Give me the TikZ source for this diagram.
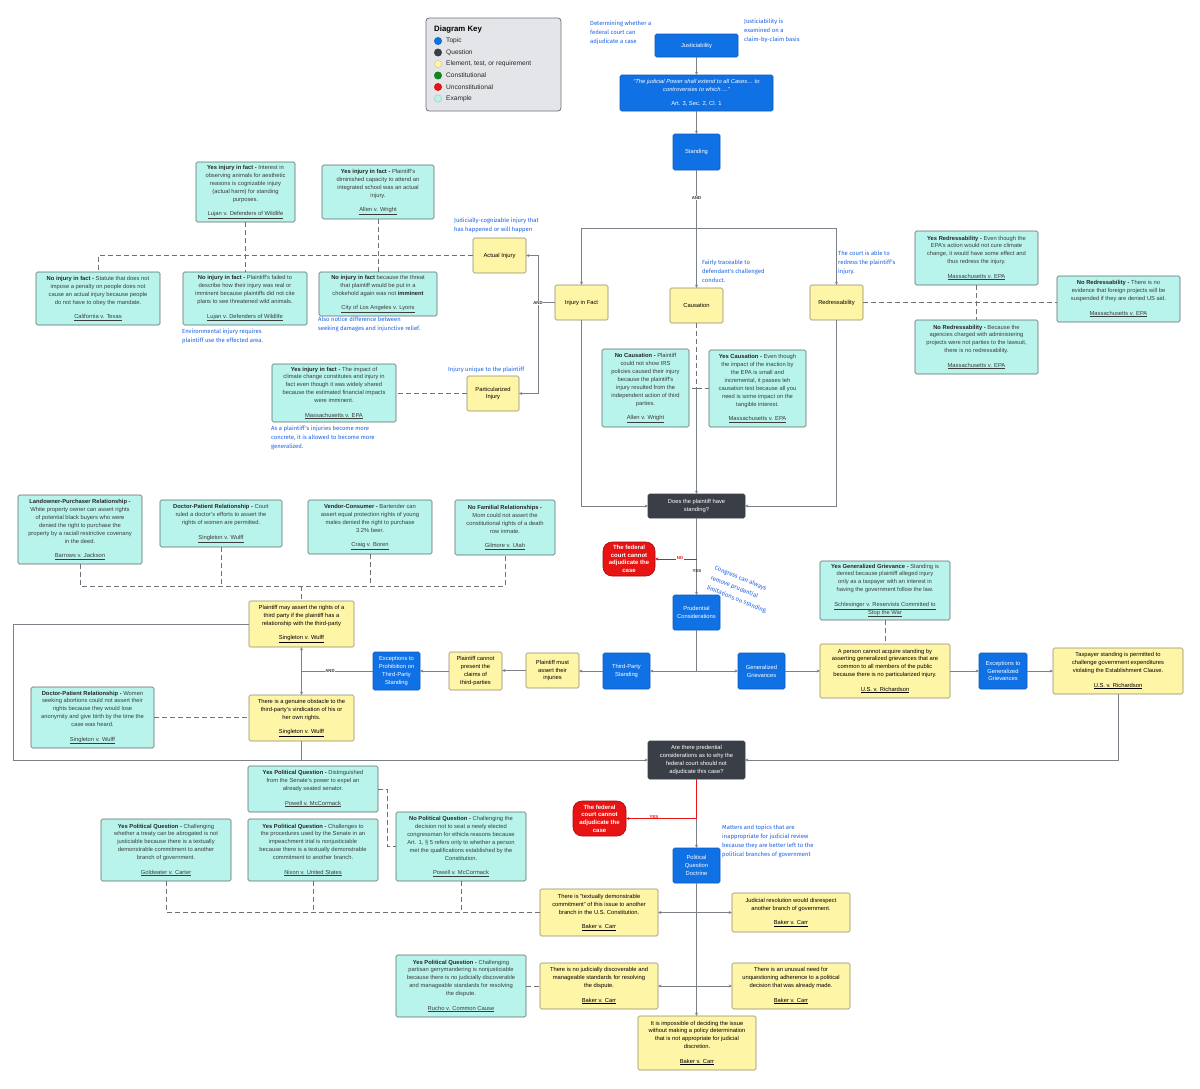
\documentclass[tikz,border=0pt]{standalone}
\usepackage{fontspec}
\setmainfont{Liberation Sans}
\newfontfamily\annfont{Fira Sans}
\usetikzlibrary{arrows.meta}
\definecolor{topicB}{HTML}{1071E5}
\definecolor{topicD}{HTML}{0B5CC0}
\definecolor{questC}{HTML}{3A3F47}
\definecolor{elemY}{HTML}{FFF5A6}
\definecolor{elemD}{HTML}{8F8B6E}
\definecolor{exT}{HTML}{B8F4EB}
\definecolor{exD}{HTML}{5D6B6A}
\definecolor{exTxt}{HTML}{3C3C3C}
\definecolor{redC}{HTML}{E81313}
\definecolor{greenC}{HTML}{0C8A1E}
\definecolor{annC}{HTML}{1B62E4}
\definecolor{lineC}{HTML}{7C8088}
\definecolor{dashC}{HTML}{6E7278}
\definecolor{keyBg}{HTML}{E3E5E8}
\newcommand\fs{\fontsize{5.8}{7.9}\selectfont}
\newcommand\cs[1]{\underline{#1}}
\newcommand\bp[1]{\textbf{\color{black!85}#1}}
\newcommand\bx[7]{\node[#1,minimum width={#4-#2},minimum height={#5-#3}] (#6) at ({(#2+#4)/2},{(#3+#5)/2}) {#7};}
\tikzset{
  boxbase/.style={draw, rounded corners=1.5pt, align=center, inner xsep=2pt, inner ysep=2pt, outer sep=0pt, font=\fs, line width=0.6pt},
  topic/.style={boxbase, fill=topicB, draw=topicD, text=white},
  elem/.style={boxbase, fill=elemY, draw=elemD, text=black},
  exbox/.style={boxbase, fill=exT, draw=exD, text=exTxt},
  quest/.style={boxbase, fill=questC, draw=questC, text=white},
  unc/.style={boxbase, fill=redC, draw=redC!70!black, text=white, rounded corners=9pt, font=\bfseries\fontsize{6}{7.6}\selectfont},
  conn/.style={draw=lineC, line width=0.6pt},
  arr/.style={conn, -{Stealth[length=3.4pt,width=3pt]}},
  redarr/.style={draw=redC, line width=0.6pt, -{Stealth[length=3.4pt,width=3pt]}},
  dsh/.style={draw=dashC, line width=0.8pt, dash pattern=on 5pt off 3pt},
  annot/.style={text=annC, align=left, inner sep=0pt, anchor=north west, font=\annfont\fontsize{5.9}{9}\selectfont},
  andlbl/.style={fill=white, inner sep=0.8pt, font=\bfseries\fontsize{4.3}{5}\selectfont, text=black!80},
  keyitem/.style={anchor=west, inner sep=0pt, font=\fontsize{6.6}{8}\selectfont, text=black!85},
  keydot/.style={circle, minimum size=7.4pt, inner sep=0pt, draw=#1!80!black, fill=#1}
}
\begin{document}
\begin{tikzpicture}[x=1pt,y=-1pt]
\useasboundingbox[fill=white] (0,0) rectangle (1200,1088);

% ---------- Key ----------
\node[draw=dashC, fill=keyBg, rounded corners=3pt, line width=0.8pt, minimum width=135pt, minimum height=93pt, inner sep=0pt] (key) at (493.5,64.5) {};
\node[anchor=west, inner sep=0pt, font=\bfseries\fontsize{7.8}{9}\selectfont] (keytitle) at (434,29) {Diagram Key};
\node[keydot=topicB] (kd1) at (438,41) {};
\node[keydot=questC] (kd2) at (438,52.5) {};
\node[keydot=elemY] (kd3) at (438,64) {};
\node[keydot=greenC] (kd4) at (438,75.5) {};
\node[keydot=redC] (kd5) at (438,87) {};
\node[keydot=exT] (kd6) at (438,98.5) {};
\node[keyitem] (kt1) at (446,41) {Topic};
\node[keyitem] (kt2) at (446,52.5) {Question};
\node[keyitem] (kt3) at (446,64) {Element, test, or requirement};
\node[keyitem] (kt4) at (446,75.5) {Constitutional};
\node[keyitem] (kt5) at (446,87) {Unconstitutional};
\node[keyitem] (kt6) at (446,98.5) {Example};

% ---------- Top ----------
\bx{topic}{655}{34}{738}{57}{just}{Justiciability}
\bx{topic}{620}{75}{773}{111}{quote}{\itshape “The judicial Power shall extend to all Cases… to\\\itshape controversies to which….”\\[6pt]Art. 3, Sec. 2, Cl. 1}
\bx{topic}{673}{134}{720}{170}{stand}{Standing}
\bx{elem}{555}{285}{608}{320}{inj}{Injury in Fact}
\bx{elem}{670}{288}{723}{323}{caus}{Causation}
\bx{elem}{810}{285}{863}{320}{redr}{Redressability}
\bx{elem}{473}{238}{526}{273}{actual}{Actual Injury}
\bx{elem}{467}{376}{519}{411}{partic}{Particularized\\Injury}

% ---------- Injury examples ----------
\bx{exbox}{196}{162}{295}{222}{yeslujan}{\bp{Yes injury in fact -} Interest in\\observing animals for aesthetic\\reasons is cognizable injury\\(actual harm) for standing\\purposes.\\[6.5pt]\cs{Lujan v. Defenders of Wildlife}}
\bx{exbox}{322}{165}{434}{219}{allen}{\bp{Yes injury in fact -} Plaintiff's\\diminished capacity to attend an\\integrated school was an actual\\injury.\\[6.5pt]\cs{Allen v. Wright}}
\bx{exbox}{36}{272}{160}{325}{cal}{\bp{No injury in fact -} Statute that does not\\impose a penalty on people does not\\cause an actual injury because people\\do not have to obey the mandate.\\[6.5pt]\cs{California v. Texas}}
\bx{exbox}{183}{272}{307}{325}{nolujan}{\bp{No injury in fact -} Plaintiff's failed to\\describe how their injury was real or\\imminent because plaintiffs did not cite\\plans to see threatened wild animals.\\[6.5pt]\cs{Lujan v. Defenders of Wildlife}}
\bx{exbox}{319}{272}{437}{316}{lyons}{\bp{No injury in fact} because the threat\\that plaintiff would be put in a\\chokehold again was not \bp{imminent}\\[6.5pt]\cs{City of Los Angeles v. Lyons}}
\bx{exbox}{272}{364}{396}{422}{massyes}{\bp{Yes injury in fact -} The impact of\\climate change constitutes and injury in\\fact even though it was widely shared\\because the estimated financial impacts\\were imminent.\\[6.5pt]\cs{Massachusetts v. EPA}}

% ---------- Causation / Redressability examples ----------
\bx{exbox}{602}{349}{689}{427}{nocaus}{\bp{No Causation -} Plaintiff\\could not show IRS\\policies caused their injury\\because the plaintiff's\\injury resulted from the\\independent action of third\\parties.\\[6.5pt]\cs{Allen v. Wright}}
\bx{exbox}{709}{350}{806}{427}{yescaus}{\bp{Yes Causation -} Even though\\the impact of the inaction by\\the EPA is small and\\incremental, it passes teh\\causation test because all you\\need is some impact on the\\tangible interest.\\[6.5pt]\cs{Massachusetts v. EPA}}
\bx{exbox}{915}{231}{1038}{285}{yesred}{\bp{Yes Redressability -} Even though the\\EPA's action would not cure climate\\change, it would have some effect and\\thus redress the injury.\\[6.5pt]\cs{Massachusetts v. EPA}}
\bx{exbox}{1057}{276}{1180}{322}{noredf}{\bp{No Redressability -} There is no\\evidence that foreign projects will be\\suspended if they are denied US aid.\\[6.5pt]\cs{Massachusetts v. EPA}}
\bx{exbox}{915}{320}{1038}{374}{noreda}{\bp{No Redressability -} Because the\\agencies charged with administering\\projects were not parties to the lawsuit,\\there is no redressability.\\[6.5pt]\cs{Massachusetts v. EPA}}

% ---------- Standing question ----------
\bx{quest}{648}{494}{745}{518}{q1}{Does the plaintiff have\\standing?}
\bx{unc}{603}{542}{655}{576}{red1}{The federal\\court cannot\\adjudicate the\\case}
\bx{topic}{673}{595}{720}{630}{prud}{Prudential\\Considerations}

% ---------- Third party ----------
\bx{topic}{603}{653}{650}{689}{tps}{Third-Party\\Standing}
\bx{elem}{526}{653}{579}{688}{pmust}{Plaintiff must\\assert their\\injuries}
\bx{elem}{449}{652}{502}{690}{pcannot}{Plaintiff cannot\\present the\\claims of\\third-parties}
\bx{topic}{373}{652}{420}{690}{extp}{Exceptions to\\Prohibition on\\Third-Party\\Standing}
\bx{elem}{249}{601}{354}{647}{pmay}{Plaintiff may assert the rights of a\\third party if the plaintiff has a\\relationship with the third-party\\[6.5pt]\cs{Singleton v. Wulff}}
\bx{elem}{249}{695}{354}{741}{gen}{There is a genuine obstacle to the\\third-party's vindication of his or\\her own rights.\\[6.5pt]\cs{Singleton v. Wulff}}
\bx{exbox}{18}{495}{142}{564}{land}{\bp{Landowner-Purchaser Relationship -}\\White property owner can assert rights\\of potential black buyers who were\\denied the right to purchase the\\property by a raciall restrictive covenany\\in the deed.\\[6.5pt]\cs{Barrows v. Jackson}}
\bx{exbox}{160}{500}{282}{547}{docc}{\bp{Doctor-Patient Relationship -} Court\\ruled a doctor's efforts to assert the\\rights of women are permitted.\\[6.5pt]\cs{Singleton v. Wulff}}
\bx{exbox}{308}{500}{432}{554}{vend}{\bp{Vendor-Consumer -} Bartender can\\assert equal protection rights of young\\males denied the right to purchase\\3.2\% beer.\\[6.5pt]\cs{Craig v. Boren}}
\bx{exbox}{455}{500}{555}{555}{fam}{\bp{No Familial Relationships -}\\Mom could not assert the\\constitutional rights of a death\\row inmate.\\[6.5pt]\cs{Gilmore v. Utah}}
\bx{exbox}{31}{687}{154}{748}{docw}{\bp{Doctor-Patient Relationship -} Women\\seeking abortions could not assert their\\rights because they would lose\\anonymity and give birth by the time the\\case was heard.\\[6.5pt]\cs{Singleton v. Wulff}}

% ---------- Generalized grievances ----------
\bx{topic}{738}{653}{785}{689}{gg}{Generalized\\Grievances}
\bx{elem}{820}{644}{950}{698}{aperson}{A person cannot acquire standing by\\asserting generalized grievances that are\\common to all members of the public\\because there is no particularized injury.\\[6.5pt]\cs{U.S. v. Richardson}}
\bx{exbox}{820}{561}{950}{620}{yesgg}{\bp{Yes Generalized Grievance -} Standing is\\denied because plaintiff alleged injury\\only as a taxpayer with an interest in\\having the government follow the law.\\[6.5pt]\cs{Schlesinger v. Reservists Committed to}\\\cs{Stop the War}}
\bx{topic}{979}{653}{1027}{689}{exgg}{Exceptions to\\Generalized\\Grievances}
\bx{elem}{1053}{648}{1183}{694}{tax}{Taxpayer standing is permitted to\\challenge government expenditures\\violating the Establishment Clause.\\[6.5pt]\cs{U.S. v. Richardson}}

% ---------- Prudential question ----------
\bx{quest}{648}{741}{745}{779}{q2}{Are there predential\\considerations as to why the\\federal court should not\\adjudicate this case?}
\bx{unc}{573}{801}{626}{836}{red2}{The federal\\court cannot\\adjudicate the\\case}
\bx{topic}{673}{848}{720}{883}{pqd}{Political\\Question\\Doctrine}
\bx{elem}{540}{889}{658}{936}{textd}{There is "textually demonstrable\\commitment" of this issue to another\\branch in the U.S. Constitution.\\[6.5pt]\cs{Baker v. Carr}}
\bx{elem}{732}{893}{850}{932}{judres}{Judicial resolution would disrespect\\another branch of government.\\[6.5pt]\cs{Baker v. Carr}}
\bx{elem}{540}{963}{658}{1009}{nojud}{There is no judicially discoverable and\\manageable standards for resolving\\the dispute.\\[6.5pt]\cs{Baker v. Carr}}
\bx{elem}{732}{963}{850}{1009}{unus}{There is an unusual need for\\unquestioning adherence to a political\\decision that was already made.\\[6.5pt]\cs{Baker v. Carr}}
\bx{elem}{638}{1016}{756}{1070}{imp}{It is impossible of deciding the issue\\without making a policy determination\\that is not appropriate for judicial\\discretion.\\[6.5pt]\cs{Baker v. Carr}}
\bx{exbox}{248}{766}{378}{812}{yespqp}{\bp{Yes Political Question -} Distinguished\\from the Senate's power to expel an\\already seated senator.\\[6.5pt]\cs{Powell v. McCormack}}
\bx{exbox}{101}{819}{231}{881}{gold}{\bp{Yes Political Question -} Challenging\\whether a treaty can be abrogated is not\\justiciable because there is a textually\\demonstrable commitment to another\\branch of government.\\[6.5pt]\cs{Goldwater v. Carter}}
\bx{exbox}{248}{819}{378}{881}{nixon}{\bp{Yes Political Question -} Challenges to\\the procedures used by the Senate in an\\impeachment trial is nonjusticiable\\because there is a textually demonstrable\\commitment to another branch.\\[6.5pt]\cs{Nixon v. United States}}
\bx{exbox}{396}{812}{526}{881}{nopq}{\bp{No Political Question -} Challenging the\\decision not to seat a newly elected\\congressman for ethicla reasons because\\Art. 1, § 5 refers only to whether a person\\met the qualifications established by the\\Constitution.\\[6.5pt]\cs{Powell v. McCormack}}
\bx{exbox}{396}{955}{526}{1017}{rucho}{\bp{Yes Political Question -} Challenging\\partisan gerrymandering is nonjusticiable\\because there is no judicially discoverable\\and manageable standards for resolving\\the dispute.\\[6.5pt]\cs{Rucho v. Common Cause}}

% ---------- Connectors ----------
\draw[arr] (just) -- (quote);
\draw[arr] (quote) -- (stand);
\draw[conn] (stand.south) -- (696.5,228) coordinate (andj);
\draw[arr] (andj) -| (inj.north);
\draw[arr] (andj) -| (redr.north);
\draw[arr] (andj) -- (caus.north);
\draw[conn] (inj.west) -- (538,302.5) coordinate (ij);
\draw[arr] (ij) |- (actual.east);
\draw[arr] (ij) |- (partic.east);
\draw[dsh] (actual.west) -| (cal.north);
\draw[dsh] (yeslujan.south) -- (yeslujan.south |- nolujan.north);
\draw[dsh] (allen.south) -- (allen.south |- lyons.north);
\draw[dsh] (partic.west) -- (massyes.east |- partic.west);
\draw[arr] (inj.south) |- (q1.west);
\draw[arr] (redr.south) |- (q1.east);
\draw[dsh] (caus.south) -- (696.5,388) coordinate (cj);
\draw[dsh] (cj) -- (nocaus.east |- cj);
\draw[dsh] (cj) -- (yescaus.west |- cj);
\draw[arr] (cj) -- (q1.north);
\draw[dsh] (redr.east) -- (noredf.west |- redr.east);
\draw[dsh] (yesred.south) -- (noreda.north);
\draw[arr] (q1.south) -- (prud.north);
\draw[redarr] (q1.south |- red1.east) -- (red1.east);
\draw[conn] (prud.south) -- (696.5,671) coordinate (pj);
\draw[arr] (pj) -- (tps.east |- pj);
\draw[arr] (pj) -- (gg.west |- pj);
\draw[arr] (tps.west) -- (pmust.east |- tps.west);
\draw[arr] (pmust.west) -- (pcannot.east |- pmust.west);
\draw[arr] (pcannot.west) -- (extp.east |- pcannot.west);
\draw[conn] (extp.west) -- (301.5,671) coordinate (ej);
\draw[arr] (ej) -- (pmay.south);
\draw[arr] (ej) -- (gen.north);
\coordinate (tpj) at (301.5,586);
\draw[dsh] (land.south) |- (tpj) -| (fam.south);
\draw[dsh] (docc.south) -- (docc.south |- tpj);
\draw[dsh] (vend.south) -- (vend.south |- tpj);
\draw[dsh] (tpj) -- (pmay.north);
\draw[arr] (pmay.west) -- (13,624) |- (q2.west);
\draw[conn] (gen.south) -- (gen.south |- q2.west);
\draw[dsh] (docw.east) -- (gen.west |- docw.east);
\draw[arr] (gg.east) -- (aperson.west |- gg.east);
\draw[arr] (aperson.east) -- (exgg.west |- aperson.east);
\draw[arr] (exgg.east) -- (tax.west |- exgg.east);
\draw[arr] (tax.south) |- (q2.east);
\draw[dsh] (yesgg.south) -- (aperson.north);
\draw[redarr] (q2.south) |- (red2.east);
\draw[arr] (q2.south |- red2.east) -- (pqd.north);
\draw[arr] (pqd.south) -- (pqd.south |- imp.north);
\draw[arr] (pqd.south |- textd.east) -- (textd.east);
\draw[arr] (pqd.south |- judres.west) -- (judres.west);
\draw[arr] (pqd.south |- nojud.east) -- (nojud.east);
\draw[arr] (pqd.south |- unus.west) -- (unus.west);
\draw[dsh] (gold.south) |- (textd.west);
\draw[dsh] (nixon.south) -- (nixon.south |- textd.west);
\draw[dsh] (nopq.south) -- (nopq.south |- textd.west);
\draw[dsh] (yespqp.east) -- ++(9,0) |- (nopq.west);
\draw[dsh] (rucho.east) -- (nojud.west |- rucho.east);

% ---------- Labels ----------
\node[andlbl] (and1) at (696.5,198) {AND};
\node[andlbl] (and2) at (538,303) {AND};
\node[andlbl] (and3) at (330,671) {AND};
\node[andlbl, text=redC] (no1) at (680,558) {NO};
\node[andlbl, fill=none] (yes1) at (697,571) {YES};
\node[andlbl, text=redC, fill=none] (yes2) at (654,817.5) {YES};

% ---------- Annotations ----------
\node[annot] (an1) at (590,21) {Determining whether a\\federal court can\\adjudicate a case};
\node[annot] (an2) at (744,19) {Justiciability is\\examined on a\\claim-by-claim basis};
\node[annot] (an3) at (454,218) {Judicially-cognizable injury that\\has happened or will happen};
\node[annot] (an4) at (182,329) {Environmental injury requires\\plaintiff use the effected area.};
\node[annot] (an5) at (318,317) {Also notice difference between\\seeking damages and injunctive relief.};
\node[annot] (an6) at (448,367) {Injury unique to the plaintiff};
\node[annot] (an7) at (271,426) {As a plaintiff's injuries become more\\concrete, it is allowed to become more\\generalized.};
\node[annot] (an8) at (702,260) {Fairly traceable to\\defendant's challenged\\conduct.};
\node[annot] (an9) at (838,251) {The court is able to\\redress the plaintiff's\\injury.};
\node[annot, anchor=center, rotate=-22, font=\annfont\fontsize{6}{10.5}\selectfont] (an10) at (741,590) {Congress can always\\remove prudential\\limitations on standing.};
\node[annot] (an11) at (722,825) {Matters and topics that are\\inappropriate for judicial review\\because they are better left to the\\political branches of government};
\end{tikzpicture}
\end{document}
